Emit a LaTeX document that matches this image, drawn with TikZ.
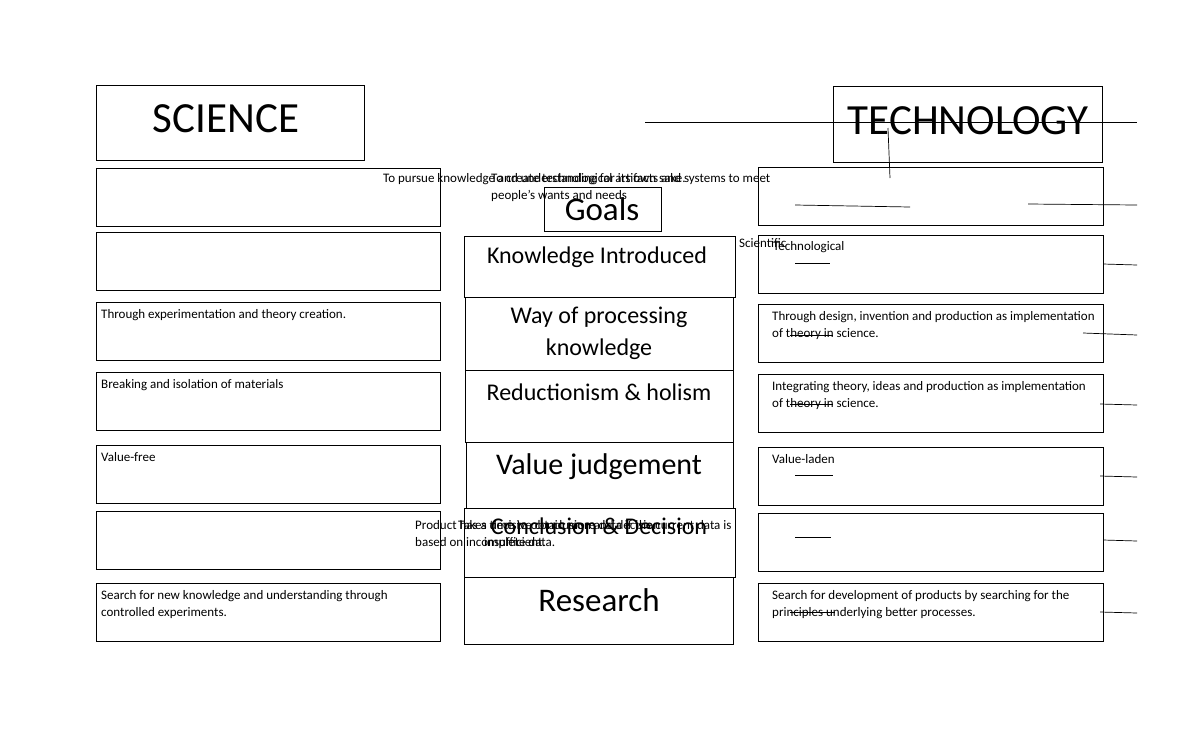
\documentclass[tikz,border=0pt]{standalone}
\usepackage{fontspec}
\setmainfont{Carlito}
\begin{document}
\begin{tikzpicture}[x=1pt,y=-1pt,
 bx/.style={draw,line width=0.9pt,inner sep=0},
 sm/.style={font=\fontsize{13}{17}\selectfont,anchor=north west,inner sep=0,align=left},
 ln/.style={line width=0.7pt}]
\useasboundingbox (0,0) rectangle (1200,729);
% titles
\draw[bx] (96,85) rectangle (364,160); \node[font=\fontsize{43}{45}\selectfont] (sci) at (226,119) {SCIENCE};
\draw[bx] (833,86) rectangle (1102,162); \node[font=\fontsize{43}{45}\selectfont] (tec) at (968,121) {TECHNOLOGY};
% left boxes
\foreach \a/\b in {168/226,232/290,302/360,372/430,445/503,511/569,583/641}{\draw[bx] (96,\a) rectangle (440,\b);}
\foreach \a/\b in {167/225,235/293,304/362,374/432,447/505,513/571,583/641}{\draw[bx] (758,\a) rectangle (1103,\b);}
% middle
\draw[bx] (544,187) rectangle (661,231); \node[font=\fontsize{33}{35}\selectfont] (g) at (602,209) {Goals};
\draw[bx] (464,236) rectangle (735,297); \node[font=\fontsize{24}{26}\selectfont] (k) at (597,257) {Knowledge Introduced};
\draw[bx] (465,297) rectangle (733,370); \node[font=\fontsize{24}{32}\selectfont,align=center] (w) at (599,333) {Way of processing\\knowledge};
\draw[bx] (465,370) rectangle (733,442); \node[font=\fontsize{24}{26}\selectfont] (r) at (599,392) {Reductionism \& holism};
\draw[bx] (466,442) rectangle (733,508); \node[font=\fontsize{30}{32}\selectfont] (v) at (599,467) {Value judgement};
\draw[bx] (464,508) rectangle (735,577); \node[font=\fontsize{24}{26}\selectfont] (c) at (599,526) {Conclusion \& Decision};
\draw[bx] (464,577) rectangle (733,644); \node[font=\fontsize{33}{35}\selectfont] (rs) at (599,600) {Research};
% small texts
\node[sm] (t1) at (383,173) {To pursue knowledge and understanding for its own sake.};
\node[sm] (t2) at (491,173) {To create technological artifacts and systems to meet\\people’s wants and needs};
\node[sm] (t3) at (739,238) {Scientific};
\node[sm] (t4) at (773,241) {Technological};
\node[sm] (t5) at (101,309) {Through experimentation and theory creation.};
\node[sm] (t6) at (772,311) {Through design, invention and production as implementation\\of theory in science.};
\node[sm] (t7) at (101,379) {Breaking and isolation of materials};
\node[sm] (t8) at (772,381) {Integrating theory, ideas and production as implementation\\of theory in science.};
\node[sm] (t9) at (101,452) {Value-free};
\node[sm] (t10) at (772,454) {Value-laden};
\node[sm] (t11) at (415,520) {Product has a decisive conclusion and decision\\based on incomplete data.};
\node[sm] (t12) at (458,520) {Takes time to obtain more data if the current data is\\\hspace*{2em}insufficient.};
\node[sm] (t13) at (101,590) {Search for new knowledge and understanding through\\controlled experiments.};
\node[sm] (t14) at (772,590) {Search for development of products by searching for the\\principles underlying better processes.};
% stray lines
\draw[ln] (645,122)--(1137,122);
\draw[ln] (888,128)--(890,178);
\foreach \x/\y/\X/\Y in {795/205/910/207,1028/204/1137/205,795/263/830/263,1103/264/1137/265,790/335/833/335,1083/333/1137/335,790/404/833/404,1100/404/1137/405,795/475/833/475,1100/476/1137/477,795/537/831/537,1103/540/1137/541,790/612/835/612,1100/612/1137/613}
 {\draw[ln] (\x,\y)--(\X,\Y);}
\end{tikzpicture}
\end{document}
